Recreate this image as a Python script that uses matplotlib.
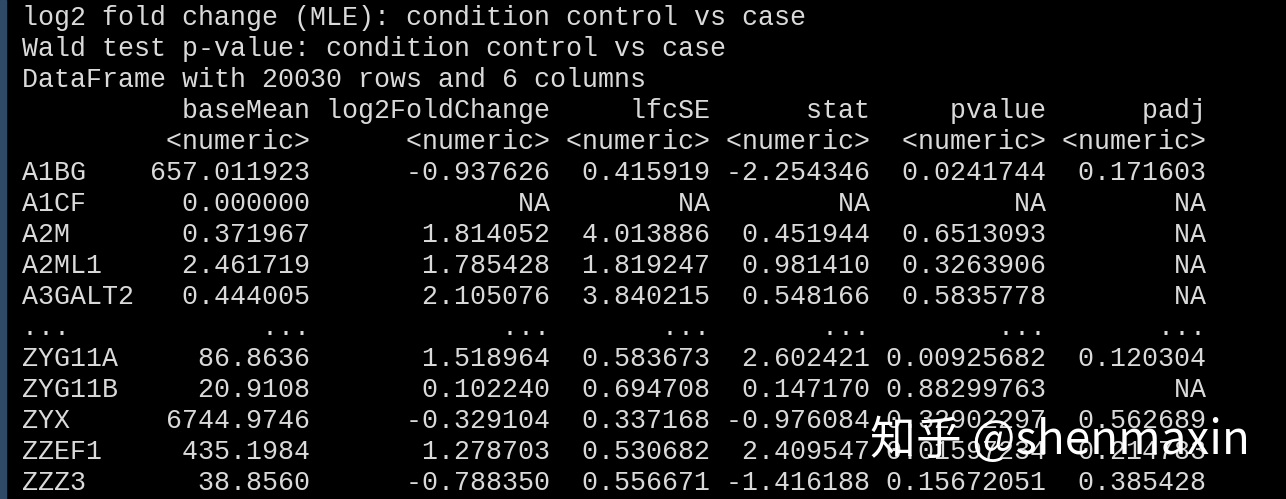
import matplotlib.pyplot as plt

HEADER = [
    "log2 fold change (MLE): condition control vs case",
    "Wald test p-value: condition control vs case",
    "DataFrame with 20030 rows and 6 columns",
]
COLUMNS = ["baseMean", "log2FoldChange", "lfcSE", "stat", "pvalue", "padj"]
WIDTHS = [11, 15, 10, 10, 11, 10]
GENES = ["A1BG", "A1CF", "A2M", "A2ML1", "A3GALT2", "...",
         "ZYG11A", "ZYG11B", "ZYX", "ZZEF1", "ZZZ3"]
BASEMEAN = ["657.011923", "0.000000", "0.371967", "2.461719", "0.444005", "...",
            "86.8636", "20.9108", "6744.9746", "435.1984", "38.8560"]
LOG2FC = ["-0.937626", "NA", "1.814052", "1.785428", "2.105076", "...",
          "1.518964", "0.102240", "-0.329104", "1.278703", "-0.788350"]
LFCSE = ["0.415919", "NA", "4.013886", "1.819247", "3.840215", "...",
         "0.583673", "0.694708", "0.337168", "0.530682", "0.556671"]
STAT = ["-2.254346", "NA", "0.451944", "0.981410", "0.548166", "...",
        "2.602421", "0.147170", "-0.976084", "2.409547", "-1.416188"]
PVALUE = ["0.0241744", "NA", "0.6513093", "0.3263906", "0.5835778", "...",
          "0.00925682", "0.88299763", "0.32902297", "0.01597234", "0.15672051"]
PADJ = ["0.171603", "NA", "NA", "NA", "NA", "...",
        "0.120304", "NA", "0.562689", "0.214783", "0.385428"]


def build_lines():
    lines = list(HEADER)
    lines.append(" " * 7 + "".join(c.rjust(w) for c, w in zip(COLUMNS, WIDTHS)))
    lines.append(" " * 7 + "".join("<numeric>".rjust(w) for w in WIDTHS))
    for row in zip(GENES, BASEMEAN, LOG2FC, LFCSE, STAT, PVALUE, PADJ):
        lines.append(row[0].ljust(7) + "".join(v.rjust(w) for v, w in zip(row[1:], WIDTHS)))
    return lines


W, H = 1286, 499
fig = plt.figure(figsize=(W / 100, H / 100), dpi=100, facecolor="black")
ax = fig.add_axes([0, 0, 1, 1])
ax.set_xlim(0, W)
ax.set_ylim(H, 0)
ax.set_axis_off()
ax.set_facecolor("black")
ax.axvspan(0, 6, color="#2e4a66")

for i, line in enumerate(build_lines()):
    ax.text(22, 18 + i * 31, line, fontsize=19.2, family="Liberation Mono",
            color="#dadada", va="center", ha="left")

# watermark sits on top of the last rows, as in the screenshot
ax.text(1250, 441, "知乎 @shenmaxin", fontsize=33, color="white",
        family=["Noto Sans CJK SC", "DejaVu Sans"], va="center", ha="right")

fig.savefig("out.png", dpi=100, facecolor="black")
